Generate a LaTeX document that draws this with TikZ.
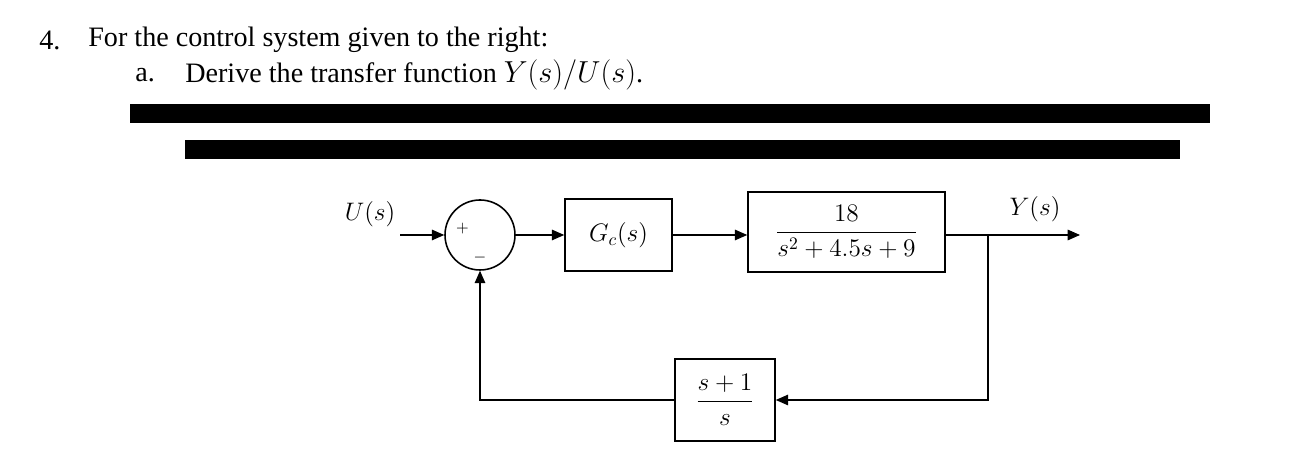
\documentclass[tikz,border=0pt]{standalone}
\usepackage{amsmath}
\usepackage{fontspec}
\setmainfont{Liberation Serif}
\usetikzlibrary{positioning,arrows.meta}
\tikzset{
  blk/.style={draw, line width=0.9pt, minimum height=1.45cm, inner sep=2pt},
  sig/.style={-{Triangle[length=7pt,width=6pt]}, line width=0.6pt},
  wire/.style={line width=0.6pt},
  txt/.style={font=\fontsize{16}{19}\selectfont, anchor=west, inner sep=0pt}
}
\begin{document}
\begin{tikzpicture}
\useasboundingbox (0,0) rectangle (25.8,9.48);
% question text
\node[txt] (num) at (0.78,8.68) {\rmfamily 4.};
\node[txt] (q) at (1.76,8.68) {For the control system given to the right:};
\node[txt] (pa) at (2.7,7.98) {a.};
\node[txt] (qa) at (3.7,7.98) {Derive the transfer function $Y(s)/U(s)$.};
% redacted lines
\fill[black] (2.6,7.02) rectangle (24.2,7.4);
\fill[black] (3.7,6.3) rectangle (23.6,6.68);

% block diagram
\node[draw, circle, line width=0.9pt, minimum size=1.4cm] (sum) at (9.6,4.78) {};
\node[font=\small] at ([xshift=-0.35cm,yshift=0.12cm]sum.center) {$+$};
\node[font=\small] at ([yshift=-0.45cm]sum.center) {$-$};
\node[blk, minimum width=2.14cm] (gc) at (12.37,4.78) {\Large $G_c(s)$};
\node[blk, minimum width=3.94cm, minimum height=1.6cm] (plant) at (16.93,4.84) {\Large $\dfrac{18}{s^2+4.5s+9}$};
\node[blk, minimum width=2.0cm, minimum height=1.64cm] (fb) at (14.5,1.48) {\Large $\dfrac{s+1}{s}$};
\coordinate (uin) at (8.0,4.78);
\coordinate (split) at (19.76,4.78);
\coordinate (yout) at (21.6,4.78);
\node[font=\Large] (ulab) at (7.4,5.2) {$U(s)$};
\node[font=\Large] (ylab) at (20.7,5.3) {$Y(s)$};

\draw[sig] (uin) -- (sum.west);
\draw[sig] (sum.east) -- (gc.west);
\draw[sig] (gc.east) -- (gc.east -| plant.west);
\draw[wire] (gc.east -| plant.east) -- (split);
\draw[sig] (split) -- (yout);
\draw[sig] (split) |- (fb.east);
\draw[sig] (fb.west) -| (sum.south);
\end{tikzpicture}
\end{document}
